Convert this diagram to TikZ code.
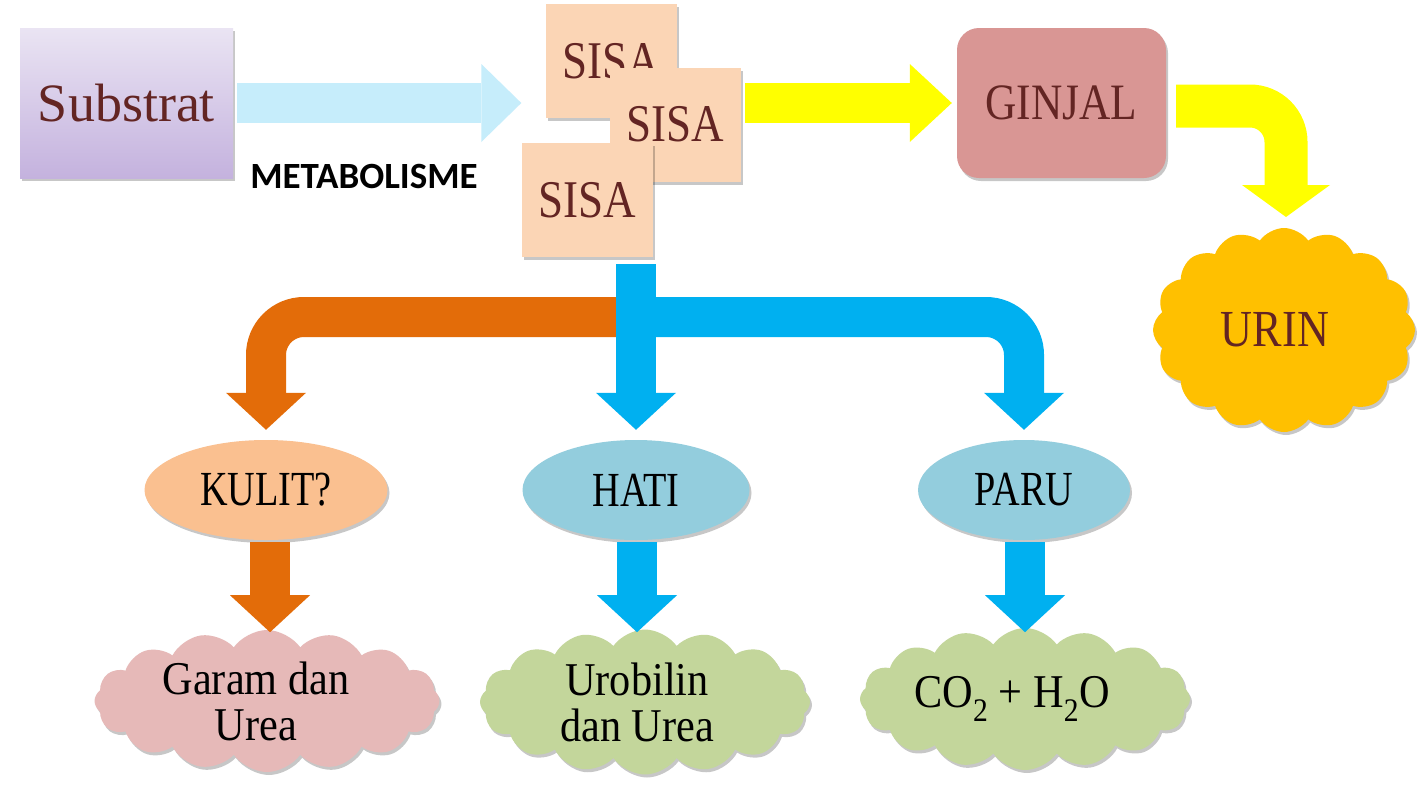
\documentclass[tikz,border=0pt]{standalone}
\usepackage{fontspec}
\setmainfont{Liberation Serif}
\newfontfamily\cambfont[FakeStretch=0.85]{Liberation Serif}
\newfontfamily\condfont[FakeStretch=0.78]{Liberation Serif}
\newfontfamily\cloudfont[FakeStretch=0.9]{Liberation Serif}
\newfontfamily\calfont{Carlito}
\usetikzlibrary{shapes.geometric,shapes.symbols,arrows.meta,shadows}
\definecolor{txtmaroon}{HTML}{632523}
\definecolor{lavtop}{HTML}{EAE4F3}
\definecolor{lavbot}{HTML}{C4B2DE}
\definecolor{peachbox}{HTML}{FBD5B5}
\definecolor{rosebox}{HTML}{D99694}
\definecolor{goldcloud}{HTML}{FFC000}
\definecolor{skinell}{HTML}{FAC090}
\definecolor{aquaell}{HTML}{93CDDD}
\definecolor{pinkcloud}{HTML}{E6B9B8}
\definecolor{greencloud}{HTML}{C3D69B}
\definecolor{orangearr}{HTML}{E36C09}
\definecolor{bluearr}{HTML}{00B0F0}
\definecolor{ltcyanarr}{HTML}{C6EDFB}
\definecolor{yellowarr}{HTML}{FFFF00}
\tikzset{
  shd/.style={drop shadow={shadow xshift=2pt,shadow yshift=-3pt,fill=black,opacity=0.22}},
  sisabox/.style={shd,fill=peachbox,draw=none,minimum width=131pt,minimum height=114pt,inner sep=0pt,
    text=txtmaroon,font=\cambfont\fontsize{53}{56}\selectfont},
  organ/.style={shd,ellipse,draw=none,minimum height=100pt,inner sep=0pt,
    font=\condfont\fontsize{49}{52}\selectfont},
  puff/.style={shd,cloud,cloud puffs=16,cloud puff arc=110,cloud ignores aspect,draw=none,inner sep=0pt},
  prodcloud/.style={puff,minimum width=335pt,minimum height=142pt,align=center,
    font=\cloudfont\fontsize{47}{46}\selectfont},
  blk/.style={line width=40pt,-{Triangle[length=37pt,width=80pt,line width=0pt]}},
}
\begin{document}
\begin{tikzpicture}[x=1pt,y=-1pt]
\useasboundingbox (0,0) rectangle (1421,793);
\fill[white] (0,0) rectangle (1421,793);

% nodes
\node[shd,top color=lavtop,bottom color=lavbot,minimum width=213pt,minimum height=150pt,inner sep=0pt,
  text=txtmaroon,font=\fontsize{54}{56}\selectfont] (sub) at (126.5,103) {Substrat};
\node[sisabox] (sisaA) at (611,61) {SISA};
\node[sisabox] (sisaB) at (675.5,124.5) {SISA};
\node[sisabox] (sisaC) at (587,200) {SISA};
\node[shd,fill=rosebox,rounded corners=22pt,minimum width=209pt,minimum height=150pt,inner sep=0pt,
  text=txtmaroon,font=\cambfont\fontsize{51}{54}\selectfont] (ginjal) at (1061.5,103) {GINJAL};
\node[puff,fill=goldcloud,minimum width=262pt,minimum height=204pt,
  text=txtmaroon,font=\cambfont\fontsize{52}{54}\selectfont] (urin) at (1284,330) {\hspace*{-18pt}URIN};

\node[organ,fill=skinell,minimum width=243pt] (kulit) at (266,490) {KULIT?};
\node[organ,fill=aquaell,minimum width=227pt] (hati) at (636,490) {HATI};
\node[organ,fill=aquaell,minimum width=212pt] (paru) at (1024,490) {PARU};

\node[prodcloud,fill=pinkcloud,minimum width=345pt] (garam) at (267,701)
  {\hspace*{-22pt}Garam dan\\\hspace*{-22pt}Urea};
\node[prodcloud,fill=greencloud,minimum width=330pt,minimum height=145pt] (urob) at (645,702)
  {\hspace*{-16pt}Urobilin\\\hspace*{-16pt}dan Urea};
\node[prodcloud,fill=greencloud,minimum width=330pt] (co2) at (1025,699)
  {\hspace*{-26pt}CO\textsubscript{2} + H\textsubscript{2}O};

\node[font=\calfont\bfseries\fontsize{37}{40}\selectfont] (metab) at (364,176) {METABOLISME};

% connectors
\draw[blk,draw=ltcyanarr,-{Triangle[length=40pt,width=78pt,line width=0pt]}]
  ([xshift=4pt]sub.east) -- (sisaC.west |- sub.east);
\draw[blk,draw=yellowarr,-{Triangle[length=42pt,width=78pt,line width=0pt]}]
  ([xshift=4pt]sisaB.east |- ginjal.west) -- ([xshift=-5pt]ginjal.west);
\coordinate (urintip) at (1286,217);
\draw[blk,draw=yellowarr,line width=43pt,rounded corners=36pt,-{Triangle[length=32pt,width=88pt,line width=0pt]}]
  ([xshift=10pt,yshift=-3pt]ginjal.east) -| (urintip);

\coordinate (hub) at (636,264);
\coordinate (branch) at (636,317);
\draw[blk,draw=orangearr,rounded corners=38pt] (branch) -| ([yshift=10pt]kulit.north);
\draw[blk,draw=bluearr,rounded corners=38pt] (branch) -| ([yshift=10pt]paru.north);
\draw[blk,draw=bluearr] (hub) -- ([yshift=10pt]hati.north);

\draw[blk,draw=orangearr] ([xshift=4pt,yshift=-2pt]kulit.south) -- ([xshift=4pt,yshift=-92pt]kulit.south);
\draw[blk,draw=bluearr] ([xshift=1pt,yshift=-2pt]hati.south) -- ([xshift=1pt,yshift=-92pt]hati.south);
\draw[blk,draw=bluearr] ([xshift=1pt,yshift=-2pt]paru.south) -- ([xshift=1pt,yshift=-92pt]paru.south);
\end{tikzpicture}
\end{document}
